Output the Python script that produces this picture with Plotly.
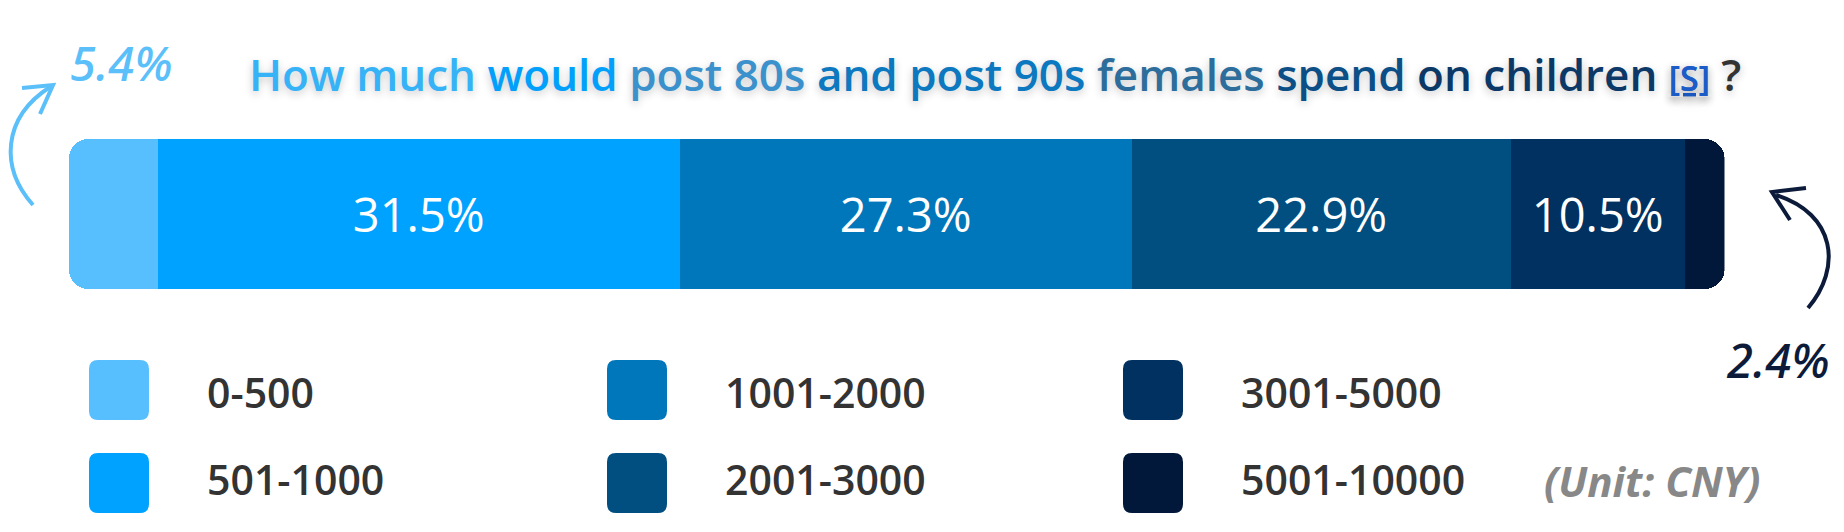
import plotly.graph_objects as go

# ---------------- data ----------------
categories = ["0-500", "501-1000", "1001-2000", "2001-3000", "3001-5000", "5001-10000"]
shares = [5.4, 31.5, 27.3, 22.9, 10.5, 2.4]
colors = ["#58bfff", "#00a2ff", "#0077bb", "#004f80", "#013160", "#02183a"]
title_words = ["How much", "would", "post 80s", "and post 90s", "females", "spend", "on children"]
title_colors = ["#36b2f7", "#03a0fb", "#3a91cc", "#0b78bf", "#2d6d9c", "#0b4f86", "#0c3868"]
unit_label = "(Unit: CNY)"

W, H = 1844, 532


def X(px):
    return px / W


def Y(py):
    return 1 - py / H


def pt(px, py):
    return f"{X(px):.5f},{Y(py):.5f}"


fig = go.Figure()

# ---------------- bar segments ----------------
# relative stacking: the first band is stacked to the left of 0, the rest to the right,
# so both outer ends of the bar get the rounded corners.
n = len(shares)
for i, (cat, val, col) in enumerate(zip(categories, shares, colors)):
    show_text = 0 < i < n - 1
    fig.add_trace(go.Bar(
        y=[0], x=[-val if i == 0 else val], orientation="h", name=cat,
        width=[1],
        marker=dict(color=col, line=dict(width=0)),
        text=[f"{val}%" if show_text else ""],
        textposition="inside", insidetextanchor="middle", textangle=0,
        textfont=dict(family="Open Sans", size=47, color="white", weight=400),
        hoverinfo="skip", showlegend=False,
    ))

fig.update_layout(
    barmode="relative", bargap=0, barcornerradius=20,
    xaxis=dict(domain=[X(68.7), X(1724.5)], range=[-shares[0], sum(shares) - shares[0]],
               visible=False, fixedrange=True),
    yaxis=dict(domain=[Y(289), Y(139)], range=[-0.5, 0.5], visible=False, fixedrange=True),
)

shapes = []
annotations = []

# ---------------- title ----------------
title_html = " ".join(
    f"<span style='color:{c}'>{w}</span>" for w, c in zip(title_words, title_colors)
)
title_html += " <span style='color:#1b5cc9;font-size:34px'><u>[S]</u></span> <span style='color:#333333'>?</span>"
annotations.append(dict(
    text=title_html, xref="paper", yref="paper", x=X(247), y=Y(74),
    xanchor="left", yanchor="middle", showarrow=False,
    font=dict(family="Open Sans", size=44, weight=600, color="#0b78bf",
              shadow="0px 3px 8px rgba(0,0,0,0.22)"),
))


# ---------------- legend (rounded swatches + labels) ----------------
def rrect(x0, y0, x1, y1, r):
    return (f"M{pt(x0 + r, y0)} L{pt(x1 - r, y0)} Q{pt(x1, y0)} {pt(x1, y0 + r)} "
            f"L{pt(x1, y1 - r)} Q{pt(x1, y1)} {pt(x1 - r, y1)} "
            f"L{pt(x0 + r, y1)} Q{pt(x0, y1)} {pt(x0, y1 - r)} "
            f"L{pt(x0, y0 + r)} Q{pt(x0, y0)} {pt(x0 + r, y0)} Z")


col_x = [89, 607, 1123]
row_y = [390, 483]
text_y = [392, 479]
for i, (cat, col) in enumerate(zip(categories, colors)):
    cx = col_x[i // 2]
    cy = row_y[i % 2]
    shapes.append(dict(type="path", xref="paper", yref="paper",
                       path=rrect(cx, cy - 30, cx + 60, cy + 30, 9),
                       fillcolor=col, line=dict(width=0)))
    annotations.append(dict(
        text=cat, xref="paper", yref="paper", x=X(cx + 116), y=Y(text_y[i % 2]),
        xanchor="left", yanchor="middle", showarrow=False,
        font=dict(family="Open Sans", size=41, weight=600, color="#333333"),
    ))

annotations.append(dict(
    text=f"<b><i>{unit_label}</i></b>", xref="paper", yref="paper", x=X(1652), y=Y(480),
    xanchor="center", yanchor="middle", showarrow=False,
    font=dict(family="Open Sans", size=42, color="#888888"),
))

# ---------------- callouts for the small segments ----------------
annotations.append(dict(
    text=f"<i>{shares[0]}%</i>", xref="paper", yref="paper", x=X(121), y=Y(63),
    xanchor="center", yanchor="middle", showarrow=False,
    font=dict(family="Noto Sans", size=47, color="#5bbff9", weight=500),
))
annotations.append(dict(
    text=f"<i>{shares[-1]}%</i>", xref="paper", yref="paper", x=X(1778), y=Y(360),
    xanchor="center", yanchor="middle", showarrow=False,
    font=dict(family="Noto Sans", size=47, color="#0d1b3b", weight=500),
))

# curved arrows
shapes.append(dict(type="path", xref="paper", yref="paper",
                   path=f"M{pt(33, 205)} C{pt(0, 168)} {pt(2, 118)} {pt(50, 87)}",
                   line=dict(color="#5bbff9", width=4)))
shapes.append(dict(type="path", xref="paper", yref="paper",
                   path=f"M{pt(22, 88)} L{pt(53, 85)} L{pt(40, 114)}",
                   line=dict(color="#5bbff9", width=4)))
shapes.append(dict(type="path", xref="paper", yref="paper",
                   path=f"M{pt(1808, 308)} C{pt(1842, 268)} {pt(1836, 214)} {pt(1776, 195)}",
                   line=dict(color="#0d1b3b", width=4)))
shapes.append(dict(type="path", xref="paper", yref="paper",
                   path=f"M{pt(1806, 188)} L{pt(1772, 192)} L{pt(1790, 220)}",
                   line=dict(color="#0d1b3b", width=4)))

fig.update_layout(
    width=W, height=H, autosize=False,
    margin=dict(l=0, r=0, t=0, b=0, pad=0),
    paper_bgcolor="white", plot_bgcolor="white",
    shapes=shapes, annotations=annotations,
    font=dict(family="Open Sans"),
)

fig.write_html(
    "out.html",
    config={"displayModeBar": False},
    post_script="document.body.style.margin='0';document.body.style.overflow='hidden';",
)
